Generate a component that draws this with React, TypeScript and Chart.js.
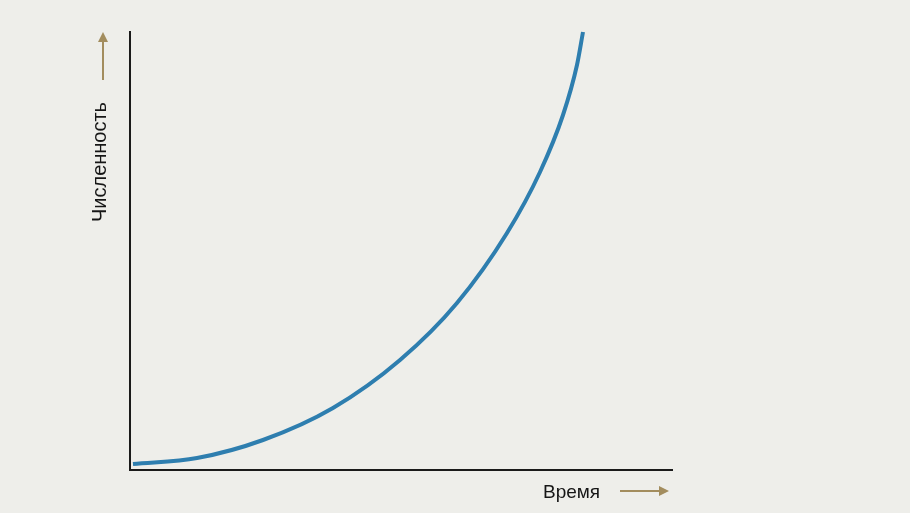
import React, { useEffect, useRef } from "react";
import { Chart, registerables } from "chart.js";

Chart.register(...registerables);

// Time (relative units) and population (relative units)
const timeValues = [0.55, 12.36, 24.54, 37.45, 49.82, 60.33, 69.56, 75.65, 79.89, 82.47, 83.58];
const populationValues = [1.37, 2.74, 6.85, 14.16, 25.11, 38.13, 54.11, 68.04, 81.05, 92.47, 100.0];

const yAxisLabel = "Численность";
const xAxisLabel = "Время";

const arrowColor = "#a38d5e";

const labelsPlugin = {
  id: "axisLabels",
  afterDraw(chart: any) {
    const ctx = chart.ctx;
    const area = chart.chartArea;
    ctx.save();
    ctx.fillStyle = "#161616";
    ctx.font = "19px 'Liberation Sans', Arial, sans-serif";
    // x label
    ctx.textAlign = "left";
    ctx.textBaseline = "alphabetic";
    ctx.fillText(xAxisLabel, area.right - 129, area.bottom + 28);
    // x arrow
    const ax0 = area.right - 52;
    const ax1 = area.right - 3;
    const ay = area.bottom + 21;
    ctx.strokeStyle = arrowColor;
    ctx.fillStyle = arrowColor;
    ctx.lineWidth = 2;
    ctx.beginPath();
    ctx.moveTo(ax0, ay);
    ctx.lineTo(ax1 - 6, ay);
    ctx.stroke();
    ctx.beginPath();
    ctx.moveTo(ax1, ay);
    ctx.lineTo(ax1 - 10, ay - 5);
    ctx.lineTo(ax1 - 10, ay + 5);
    ctx.closePath();
    ctx.fill();

    // y label rotated
    ctx.fillStyle = "#161616";
    ctx.font = "20px 'Liberation Sans', Arial, sans-serif";
    ctx.save();
    ctx.translate(area.left - 24, 162);
    ctx.rotate(-Math.PI / 2);
    ctx.textAlign = "center";
    ctx.textBaseline = "alphabetic";
    ctx.fillText(yAxisLabel, 0, 0);
    ctx.restore();
    // y arrow
    const bx = area.left - 27;
    const by0 = area.top + 48;
    const by1 = area.top;
    ctx.strokeStyle = arrowColor;
    ctx.fillStyle = arrowColor;
    ctx.beginPath();
    ctx.moveTo(bx, by0);
    ctx.lineTo(bx, by1 + 6);
    ctx.stroke();
    ctx.beginPath();
    ctx.moveTo(bx, by1);
    ctx.lineTo(bx - 5, by1 + 10);
    ctx.lineTo(bx + 5, by1 + 10);
    ctx.closePath();
    ctx.fill();
    ctx.restore();
  },
};

export default function App() {
  const ref = useRef<HTMLCanvasElement | null>(null);
  useEffect(() => {
    if (!ref.current) return;
    const chart = new Chart(ref.current, {
      type: "scatter",
      data: {
        datasets: [
          {
            data: timeValues.map((t, i) => ({ x: t, y: populationValues[i] })),
            showLine: true,
            borderColor: "#2e7eaf",
            borderWidth: 4,
            pointRadius: 0,
            cubicInterpolationMode: "monotone",
            clip: false as any,
          },
        ],
      },
      options: {
        responsive: false,
        animation: false,
        layout: { padding: { left: 130, top: 32, right: 238, bottom: 43 } },
        plugins: { legend: { display: false }, tooltip: { enabled: false } },
        scales: {
          x: {
            type: "linear",
            min: 0,
            max: 100,
            ticks: { display: false },
            grid: { display: false, drawTicks: false },
            border: { display: true, color: "#1a1a1a", width: 2 },
          },
          y: {
            type: "linear",
            min: 0,
            max: 100,
            ticks: { display: false },
            grid: { display: false, drawTicks: false },
            border: { display: true, color: "#1a1a1a", width: 2 },
          },
        },
      },
      plugins: [labelsPlugin],
    });
    return () => chart.destroy();
  }, []);
  return (
    <div style={{ position: "absolute", left: 0, top: 0, width: 910, height: 513, background: "#eeeeea" }}>
      <canvas ref={ref} width={910} height={513} style={{ display: "block" }} />
    </div>
  );
}
